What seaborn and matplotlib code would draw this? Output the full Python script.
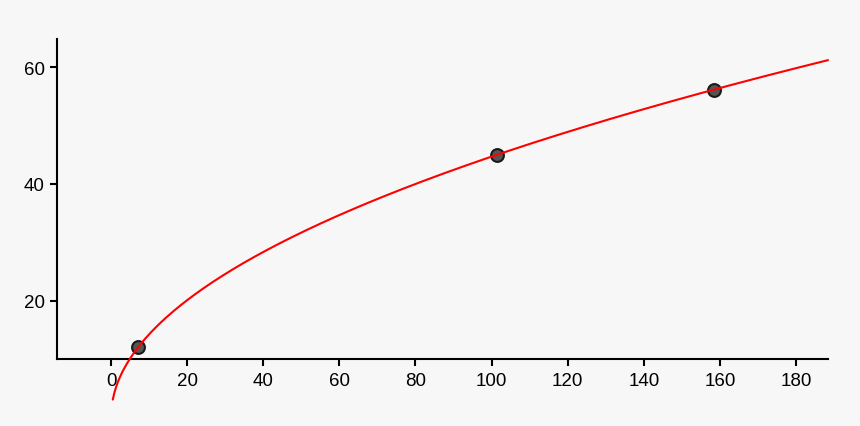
import numpy as np
import pandas as pd
import matplotlib
matplotlib.use("Agg")
import matplotlib.pyplot as plt
import seaborn as sns

# observed points
x_obs = [7.1, 101.4, 158.4]
y_obs = [12.0, 45.0, 56.1]

# fitted curve range (power-law fit through the points)
curve_start = 0.45
curve_end = 188.4

sns.set_style("ticks")
plt.rcParams['font.family'] = ['Liberation Sans', 'DejaVu Sans']

# power fit y = a * x^b from the points
b, log_a = np.polyfit(np.log(x_obs), np.log(y_obs), 1)
xs = np.linspace(curve_start, curve_end, 400)
fit = pd.DataFrame({'x': xs, 'y': np.exp(log_a) * xs ** b})
pts = pd.DataFrame({'x': x_obs, 'y': y_obs})

fig = plt.figure(figsize=(8.6, 4.27), dpi=100, facecolor='#f7f7f7')
ax = fig.add_axes([0.0663, 0.1569, 0.8965, 0.7494])
ax.set_facecolor('#f7f7f7')

sns.scatterplot(data=pts, x='x', y='y', ax=ax, s=85, color='#555555',
                edgecolor='#1a1a1a', linewidth=1.5, zorder=2)
sns.lineplot(data=fit, x='x', y='y', ax=ax, color='red', linewidth=1.5,
             clip_on=False, zorder=3)

ax.set_xlim(-14.2, 188.4)
ax.set_ylim(10.0, 64.8)
ax.set_xticks(range(0, 181, 20))
ax.set_yticks([20, 40, 60])
ax.set_xlabel('')
ax.set_ylabel('')
ax.tick_params(width=1.5, length=5, pad=4, color='black', labelcolor='black')
for lab in ax.get_xticklabels() + ax.get_yticklabels():
    lab.set_fontsize(13.5)
for side in ['left', 'bottom']:
    ax.spines[side].set_linewidth(1.5)
    ax.spines[side].set_color('black')
sns.despine(ax=ax)

fig.savefig('out.png', dpi=100, facecolor='#f7f7f7')
